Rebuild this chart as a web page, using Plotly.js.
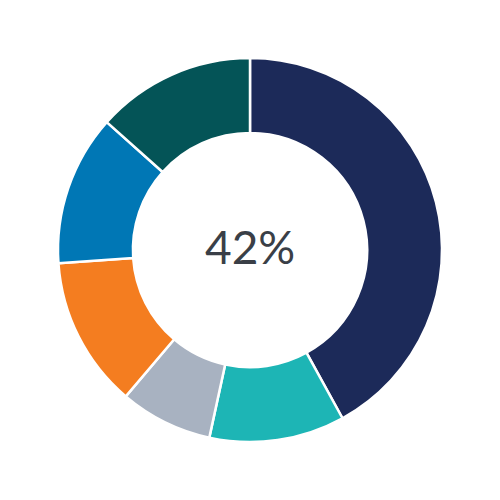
<!DOCTYPE html>
<html>
<head>
<meta charset="utf-8">
<script src="https://cdn.plot.ly/plotly-3.0.1.min.js"></script>
<style>
  html, body { margin: 0; padding: 0; background: #fff; }
  #graph { width: 500px; height: 500px; }
</style>
</head>
<body>
<div id="graph"></div>
<script>
  // slices clockwise from 12 o'clock
  var labels = ['Navy', 'Teal', 'Gray', 'Orange', 'Blue', 'Green'];
  var values = [42, 11.4, 7.8, 12.7, 12.7, 13.4];
  var colors = ['#1c2a59', '#1db5b5', '#a8b2c1', '#f47d20', '#0077b5', '#045457'];
  var centerText = '42%';

  var trace = {
    type: 'pie',
    labels: labels,
    values: values,
    hole: 0.61,
    sort: false,
    direction: 'clockwise',
    rotation: 0,
    textinfo: 'none',
    hoverinfo: 'none',
    marker: {
      colors: colors,
      line: {color: '#ffffff', width: 2.5}
    }
  };

  var layout = {
    width: 500,
    height: 500,
    margin: {l: 58, r: 58, t: 57, b: 57},
    showlegend: false,
    paper_bgcolor: '#ffffff',
    annotations: [{
      text: centerText,
      x: 0.5,
      y: 0.5,
      xref: 'paper',
      yref: 'paper',
      yshift: 4,
      showarrow: false,
      font: {family: 'Lato, sans-serif', size: 46, color: '#3a3f47'}
    }]
  };

  Plotly.newPlot('graph', [trace], layout, {displayModeBar: false, staticPlot: true});
</script>
</body>
</html>
